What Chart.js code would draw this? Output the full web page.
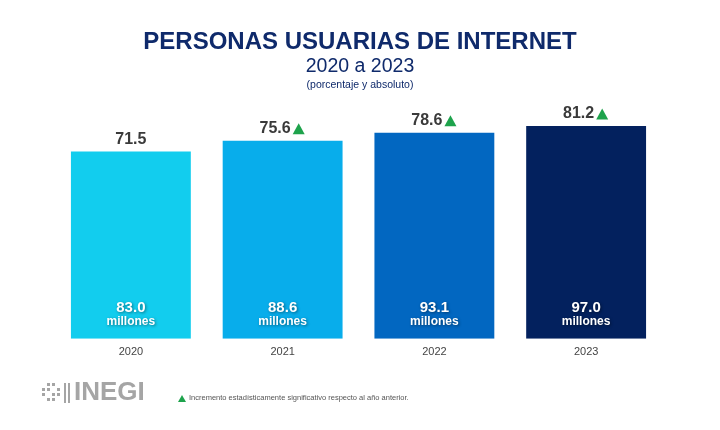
<!DOCTYPE html>
<html>
<head>
<meta charset="utf-8">
<script src="https://cdn.jsdelivr.net/npm/chart.js@4"></script>
<style>
  html, body { margin: 0; padding: 0; background: #ffffff; }
  #wrap { width: 720px; height: 430px; position: relative; }
</style>
</head>
<body>
<div id="wrap"><canvas id="usuariosChart" width="720" height="430"></canvas></div>
<script>
// datos
const years = ["2020", "2021", "2022", "2023"];
const percentUsers = [71.5, 75.6, 78.6, 81.2];
const millionsUsers = ["83.0", "88.6", "93.1", "97.0"];
const significant = [false, true, true, true];
const barColors = ["#12cdee", "#08adeb", "#0267c1", "#03215e"];

const titleText = "PERSONAS USUARIAS DE INTERNET";
const subtitleText = "2020 a 2023";
const noteText = "(porcentaje y absoluto)";
const footnoteText = "Incremento estadísticamente significativo respecto al año anterior.";

const GREEN = "#1ea34c";
const FONT = "'Liberation Sans', Arial, sans-serif";

function triangle(ctx, x, yBase, w, h) {
  ctx.beginPath();
  ctx.moveTo(x, yBase);
  ctx.lineTo(x + w, yBase);
  ctx.lineTo(x + w / 2, yBase - h);
  ctx.closePath();
  ctx.fillStyle = GREEN;
  ctx.fill();
}

const labelsPlugin = {
  id: "labelsPlugin",
  afterDatasetsDraw(chart) {
    const ctx = chart.ctx;
    const meta = chart.getDatasetMeta(0);
    ctx.save();
    meta.data.forEach((bar, i) => {
      // porcentaje arriba de la barra
      const txt = percentUsers[i].toFixed(1);
      ctx.font = "bold 16px " + FONT;
      const tw = ctx.measureText(txt).width;
      const triW = significant[i] ? 15 : 0;
      const startX = bar.x - (tw + triW) / 2;
      ctx.fillStyle = "#3a3a3a";
      ctx.textAlign = "left";
      ctx.textBaseline = "middle";
      ctx.fillText(txt, startX, bar.y - 12);
      if (significant[i]) triangle(ctx, startX + tw + 2, bar.y - 6.5, 12, 11);

      // absoluto dentro de la barra
      ctx.textAlign = "center";
      ctx.shadowColor = "rgba(0,0,0,0.45)";
      ctx.shadowBlur = 3;
      ctx.shadowOffsetX = 1;
      ctx.shadowOffsetY = 1;
      ctx.fillStyle = "#ffffff";
      ctx.font = "bold 15px " + FONT;
      ctx.fillText(millionsUsers[i], bar.x, bar.base - 31);
      ctx.font = "bold 12px " + FONT;
      ctx.fillText("millones", bar.x, bar.base - 17);
      ctx.shadowColor = "transparent";
    });
    ctx.restore();
  },
  afterDraw(chart) {
    const ctx = chart.ctx;
    ctx.save();
    ctx.textAlign = "center";
    ctx.textBaseline = "middle";
    ctx.fillStyle = "#0f2a6b";
    ctx.font = "bold 24px " + FONT;
    ctx.fillText(titleText, 360, 42);
    ctx.font = "19.5px " + FONT;
    ctx.fillText(subtitleText, 360, 67);
    ctx.font = "10.5px " + FONT;
    ctx.fillText(noteText, 360, 85);

    // logo INEGI (texto)
    ctx.fillStyle = "#a5a5a5";
    for (let r = 0; r < 4; r++) {
      for (let c = 0; c < 4; c++) {
        if ((r + c) % 3 === 0) continue;
        ctx.fillRect(42 + c * 5, 383 + r * 5, 3, 3);
      }
    }
    ctx.fillRect(64, 383, 2, 20);
    ctx.fillRect(68, 383, 2, 20);
    ctx.font = "bold 26px " + FONT;
    ctx.textAlign = "left";
    ctx.fillText("INEGI", 74, 393);

    // nota al pie
    triangle(ctx, 178, 402, 8, 7);
    ctx.fillStyle = "#555555";
    ctx.font = "7.5px " + FONT;
    ctx.fillText(footnoteText, 189, 398);
    ctx.restore();
  }
};

new Chart(document.getElementById("usuariosChart"), {
  type: "bar",
  data: {
    labels: years,
    datasets: [{
      data: percentUsers,
      backgroundColor: barColors,
      borderWidth: 0,
      barPercentage: 0.79,
      categoryPercentage: 1.0
    }]
  },
  options: {
    responsive: false,
    animation: false,
    devicePixelRatio: 1,
    layout: { padding: { left: 55, right: 58, top: 103, bottom: 64 } },
    plugins: {
      legend: { display: false },
      tooltip: { enabled: false }
    },
    scales: {
      x: {
        grid: { display: false, drawTicks: false },
        border: { display: false },
        ticks: { color: "#444444", font: { family: FONT, size: 11 }, padding: 7 }
      },
      y: {
        display: false,
        min: 0,
        max: 90
      }
    }
  },
  plugins: [labelsPlugin]
});
</script>
</body>
</html>
